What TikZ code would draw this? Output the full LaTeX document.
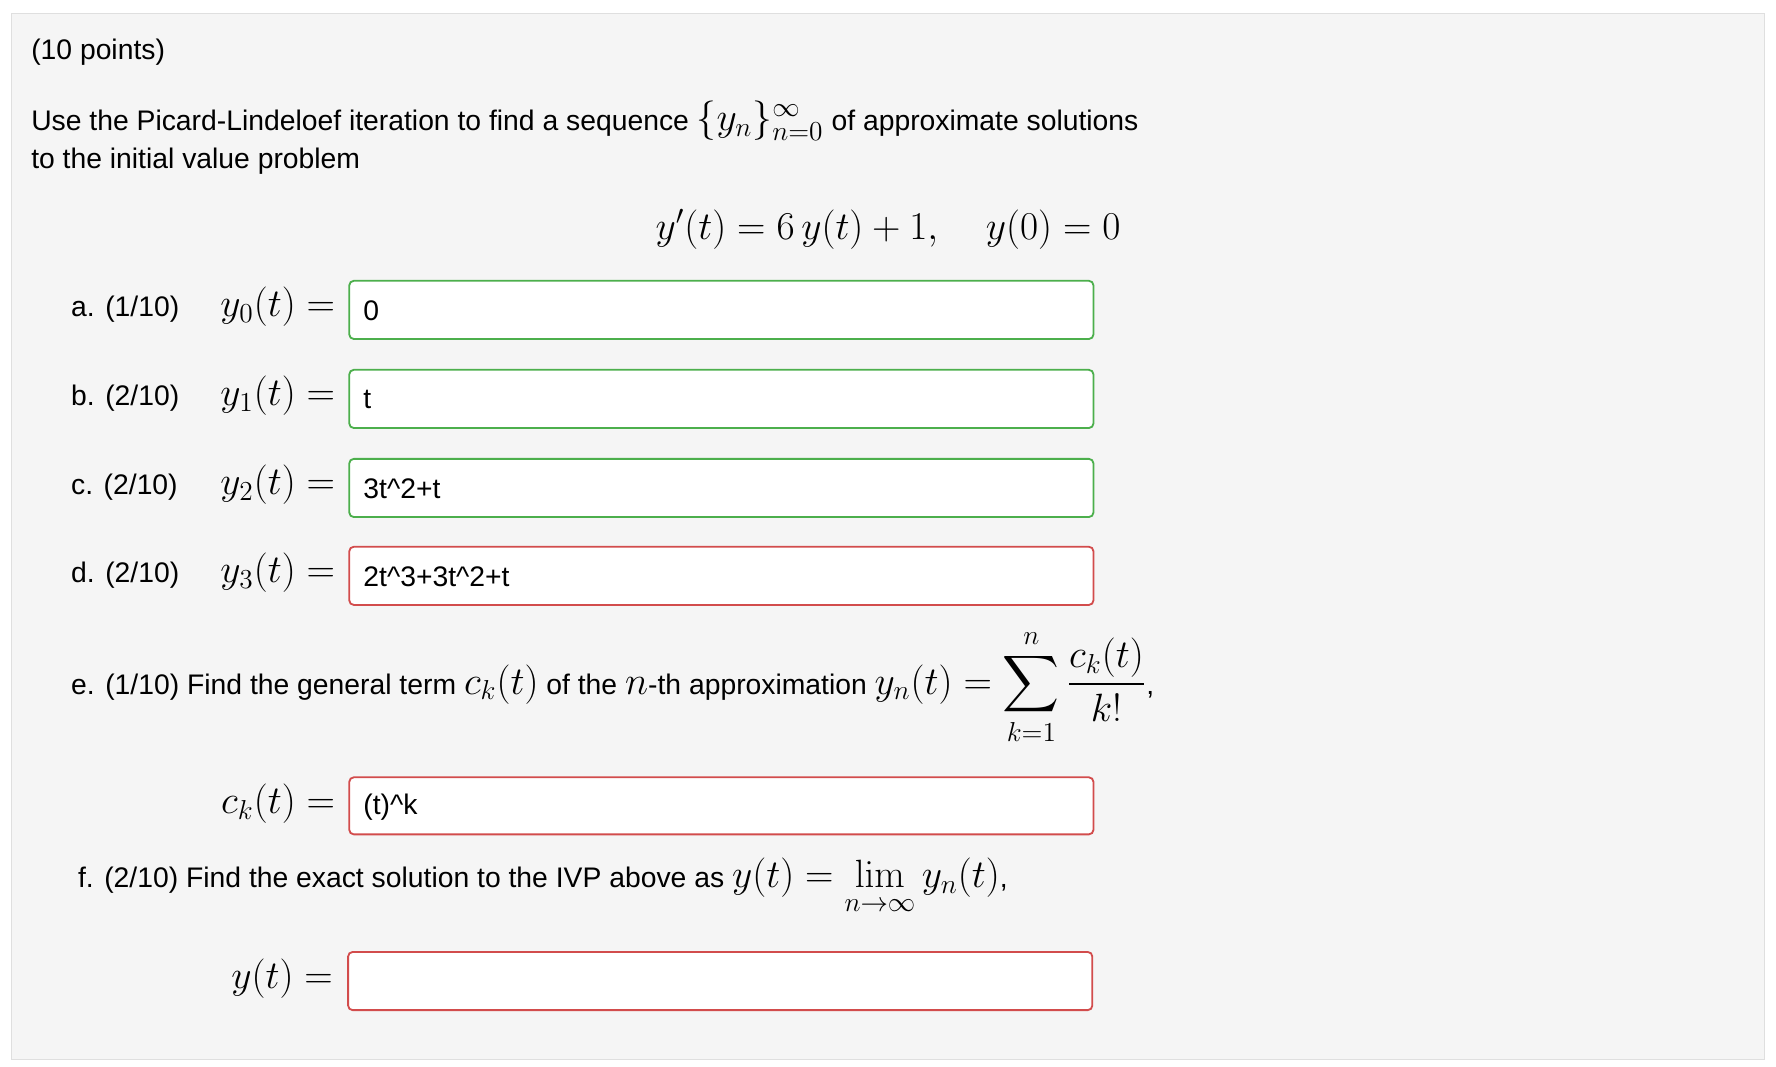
\documentclass[tikz,border=0pt]{standalone}
\usepackage{amsmath}
\usepackage[no-math]{fontspec}
\setmainfont{Liberation Sans}
\begin{document}
\begin{tikzpicture}[x=0.5pt,y=-0.5pt,
  txt/.style={anchor=west,inner sep=0pt,font=\fontsize{12.4}{14}\selectfont},
  lbl/.style={anchor=east,inner sep=0pt,font=\fontsize{17}{18}\selectfont},
  ok/.style={draw=green!55!black!70,line width=0.8pt,fill=white,rounded corners=2pt},
  bad/.style={draw=red!75!black!70,line width=0.8pt,fill=white,rounded corners=2pt},
  inp/.style={anchor=west,inner sep=0pt,font=\fontsize{12.4}{14}\selectfont}]
\useasboundingbox (0,0) rectangle (1556,934);
\fill[white] (0,0) rectangle (1556,934);
\draw[gray!25,fill=gray!8] (10,12) rectangle (1546,928);
\node[txt] (pts) at (27,46) {(10 points)};
\node[txt] (l1) at (27,106) {Use the Picard-Lindeloef iteration to find a sequence \fontsize{16.5}{16}\selectfont$\{y_n\}_{n=0}^{\infty}$\fontsize{12.4}{14}\selectfont\ of approximate solutions};
\node[txt] (l2) at (27,141) {to the initial value problem};
\node[inner sep=0pt,font=\fontsize{18}{20}\selectfont] (eq) at (778,201) {$y'(t)=6\,y(t)+1,\quad y(0)=0$};
% a
\draw[ok] (306,246) rectangle (958,297);
\node[txt] (la) at (62,271) {a. (1/10)};
\node[lbl] (ma) at (294,269) {$y_{0}(t)=$};
\node[inp] (va) at (318,272) {0};
% b
\draw[ok] (306,324) rectangle (958,375);
\node[txt] (lb) at (62,349) {b. (2/10)};
\node[lbl] (mb) at (294,347) {$y_{1}(t)=$};
\node[inp] (vb) at (318,350) {t};
% c
\draw[ok] (306,402) rectangle (958,453);
\node[txt] (lc) at (62,427) {c. (2/10)};
\node[lbl] (mc) at (294,425) {$y_{2}(t)=$};
\node[inp] (vc) at (318,428) {3t\^{}2+t};
% d
\draw[bad] (306,479) rectangle (958,530);
\node[txt] (ld) at (62,504) {d. (2/10)};
\node[lbl] (md) at (294,502) {$y_{3}(t)=$};
\node[inp] (vd) at (318,505) {2t\^{}3+3t\^{}2+t};
\node[txt] (e) at (62,602) {e. (1/10) Find the general term \fontsize{17}{18}\selectfont$c_k(t)$\fontsize{12.4}{14}\selectfont\ of the \fontsize{17}{18}\selectfont$n$\fontsize{12.4}{14}\selectfont-th approximation \fontsize{17}{18}\selectfont$y_n(t)=\displaystyle\sum_{k=1}^{n}\frac{c_k(t)}{k!}$\fontsize{12.4}{14}\selectfont,};
\draw[bad] (306,681) rectangle (958,731);
\node[lbl] (ck) at (294,704) {$c_k(t)=$};
\node[inp] (ckv) at (318,707) {(t)\^{}k};
\node[txt] (f) at (68,777) {f. (2/10) Find the exact solution to the IVP above as \fontsize{17}{18}\selectfont$y(t)=\displaystyle\lim_{n\to\infty}y_n(t)$\fontsize{12.4}{14}\selectfont,};
\draw[bad] (305,834) rectangle (957,885);
\node[lbl] (yt) at (292,857) {$y(t)=$};
\end{tikzpicture}
\end{document}
